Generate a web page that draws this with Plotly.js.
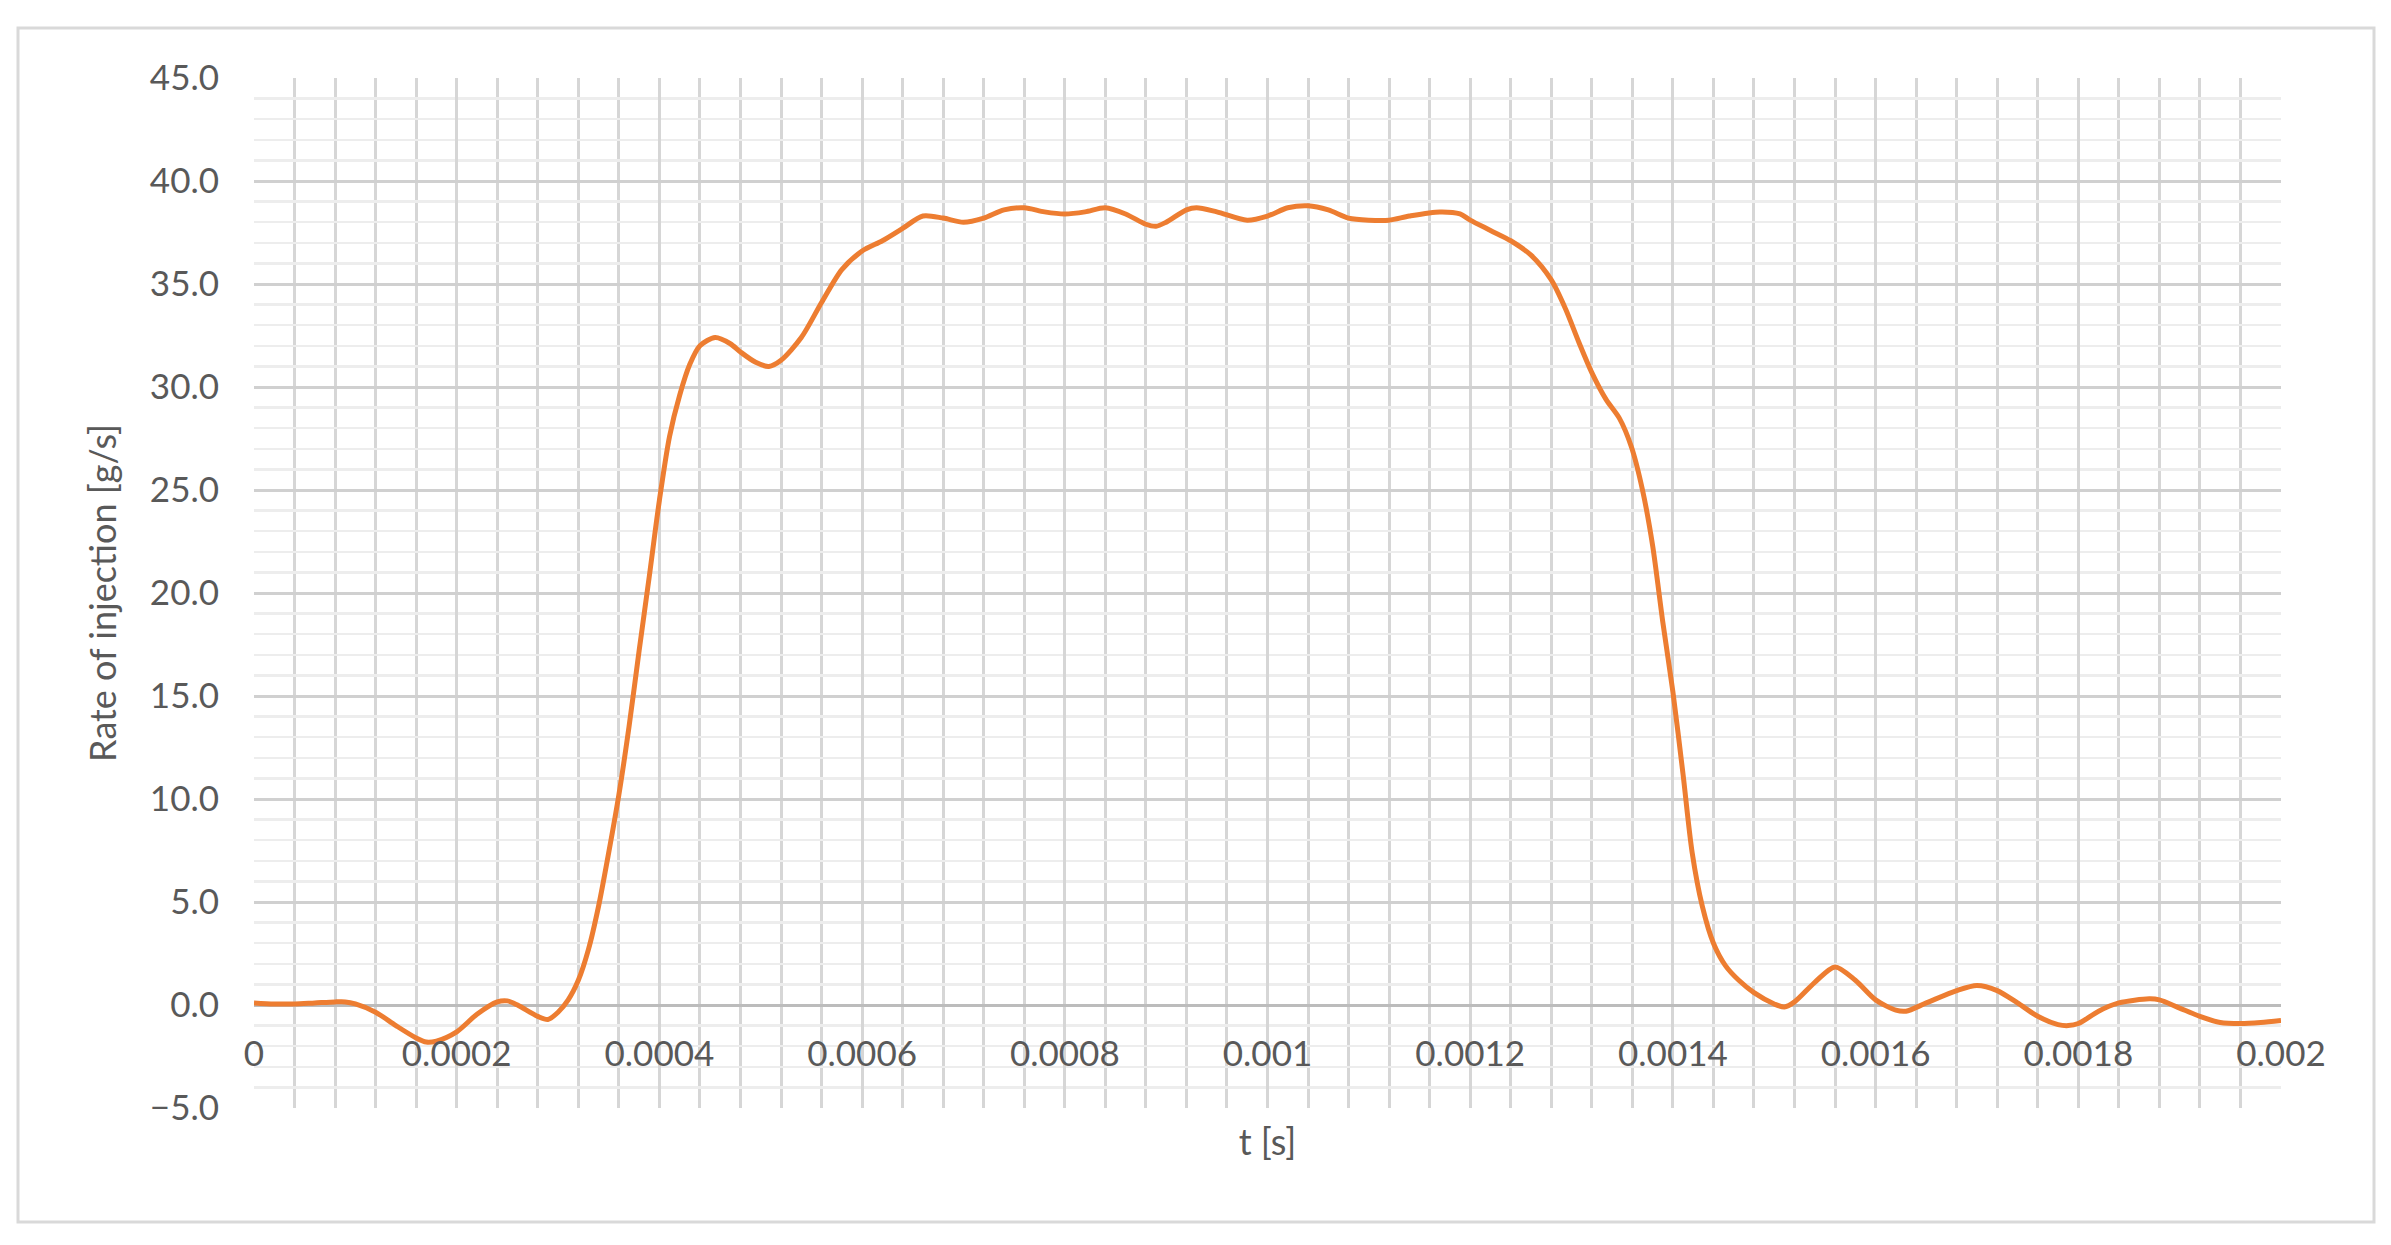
<!DOCTYPE html>
<html>
<head>
<meta charset="utf-8">
<script src="https://cdn.plot.ly/plotly-3.0.1.min.js"></script>
<style>html,body{margin:0;padding:0;background:#fff;}#chart{width:2391px;height:1245px;}</style>
</head>
<body>
<div id="chart"></div>
<script>
// ---- data ----
const tSeconds = [
  0, 0.00002, 0.00004, 0.00006, 0.00008, 0.00009, 0.0001, 0.00012, 0.00014, 0.00016,
  0.00017, 0.00018, 0.0002, 0.00022, 0.00024, 0.00025, 0.00026, 0.00028, 0.00029, 0.0003,
  0.00031, 0.00032, 0.00033, 0.00034, 0.00035, 0.00036, 0.00037, 0.00038, 0.00039, 0.0004,
  0.00041, 0.00042, 0.00043, 0.00044, 0.000455, 0.00047, 0.00048, 0.000495, 0.000508, 0.00052,
  0.00054, 0.00056, 0.00058, 0.0006, 0.00062, 0.00064, 0.00066, 0.00068, 0.0007, 0.00072,
  0.00074, 0.00076, 0.00078, 0.0008, 0.00082, 0.00084, 0.00086, 0.00088, 0.00089, 0.0009,
  0.00092, 0.00093, 0.00095, 0.00098, 0.001, 0.00102, 0.00104, 0.00106, 0.00108, 0.0011,
  0.00112, 0.00114, 0.00117, 0.00119, 0.0012, 0.00122, 0.00124, 0.00126, 0.00128, 0.001294,
  0.001307, 0.00132, 0.001334, 0.001347, 0.001359, 0.00137, 0.00138, 0.00139, 0.0014, 0.00141,
  0.001419, 0.001429, 0.00144, 0.001452, 0.001465, 0.00148, 0.0015, 0.00151, 0.00152, 0.00154,
  0.00156, 0.00158, 0.0016, 0.00162, 0.00163, 0.00165, 0.00168, 0.0017, 0.00172, 0.00174,
  0.00176, 0.00178, 0.00179, 0.0018, 0.00182, 0.00184, 0.00187, 0.00188, 0.0019, 0.00192,
  0.00194, 0.00196, 0.00198, 0.002
];
const rateGs = [
  0.1, 0.05, 0.05, 0.1, 0.15, 0.15, 0.05, -0.35, -1.0, -1.6,
  -1.8, -1.75, -1.3, -0.45, 0.15, 0.2, 0.0, -0.55, -0.7, -0.35,
  0.25, 1.2, 2.7, 4.8, 7.4, 10.2, 13.5, 17.2, 20.8, 24.5,
  27.6, 29.6, 31.1, 32.0, 32.4, 32.1, 31.7, 31.2, 31.0, 31.3,
  32.4, 34.1, 35.7, 36.6, 37.1, 37.7, 38.3, 38.2, 38.0, 38.2,
  38.6, 38.7, 38.5, 38.4, 38.5, 38.7, 38.4, 37.9, 37.8, 38.0,
  38.6, 38.7, 38.5, 38.1, 38.3, 38.7, 38.8, 38.6, 38.2, 38.1,
  38.1, 38.3, 38.5, 38.4, 38.1, 37.6, 37.1, 36.4, 35.2, 33.8,
  32.2, 30.7, 29.4, 28.5, 27.1, 25.0, 22.3, 18.6, 15.2, 11.2,
  7.4, 4.8, 3.0, 1.9, 1.2, 0.6, 0.05, -0.1, 0.15, 1.1,
  1.85, 1.2, 0.25, -0.25, -0.3, 0.1, 0.7, 0.95, 0.7, 0.1,
  -0.55, -0.95, -1.0, -0.9, -0.3, 0.1, 0.3, 0.25, -0.15, -0.55,
  -0.85, -0.9, -0.85, -0.75
];
const xTickVals = [0, 0.0002, 0.0004, 0.0006, 0.0008, 0.001, 0.0012, 0.0014, 0.0016, 0.0018, 0.002];
const xTickText = ['0', '0.0002', '0.0004', '0.0006', '0.0008', '0.001', '0.0012', '0.0014', '0.0016', '0.0018', '0.002'];
const yRange = [-5, 45];
const xRange = [0, 0.002];
const xTitle = 't [s]';
const yTitle = 'Rate of injection [g/s]';

// ---- layout ----
const W = 2391, H = 1245;
const M = {l: 254, r: 110, t: 78, b: 137};
const pw = W - M.l - M.r, ph = H - M.t - M.b;
const txt = '#595959';
const fontFam = 'Lato, "Open Sans", sans-serif';
const zeroPos = (0 - yRange[0]) / (yRange[1] - yRange[0]);
const vGrid = '#d6d6d6';

const trace = {
  x: tSeconds, y: rateGs, type: 'scatter', mode: 'lines',
  line: {color: '#ED7D31', width: 5, shape: 'spline', smoothing: 0.8},
  hoverinfo: 'x+y'
};

const layout = {
  width: W, height: H,
  margin: M,
  paper_bgcolor: '#ffffff', plot_bgcolor: '#ffffff',
  showlegend: false,
  font: {family: fontFam, size: 35, color: txt},
  xaxis: {
    range: xRange,
    anchor: 'free', position: zeroPos,
    tickmode: 'array', tickvals: xTickVals, ticktext: xTickText,
    ticks: 'outside', ticklen: 18, tickcolor: 'rgba(0,0,0,0)',
    tickfont: {family: fontFam, size: 35, color: txt},
    showgrid: true, gridcolor: vGrid, gridwidth: 3,
    minor: {tickmode: 'linear', tick0: 0, dtick: 0.00004, showgrid: true, gridcolor: vGrid, gridwidth: 3,
            ticks: '', ticklen: 0, tickcolor: 'rgba(0,0,0,0)'},
    zeroline: false, showline: false,
    title: {text: xTitle, font: {family: fontFam, size: 36, color: txt}, standoff: 57},
    automargin: false
  },
  yaxis: {
    range: yRange,
    tickmode: 'linear', tick0: 0, dtick: 5, tickformat: '.1f',
    ticks: 'outside', ticklen: 27, tickcolor: 'rgba(0,0,0,0)',
    tickfont: {family: fontFam, size: 35, color: txt},
    showgrid: true, gridcolor: '#d0d0d0', gridwidth: 3,
    minor: {tickmode: 'linear', tick0: 0, dtick: 1, showgrid: true, gridcolor: '#ededed', gridwidth: 2.5,
            ticks: '', ticklen: 0, tickcolor: 'rgba(0,0,0,0)'},
    zeroline: true, zerolinecolor: '#bcbcbc', zerolinewidth: 3,
    showline: false,
    title: {text: yTitle, font: {family: fontFam, size: 36, color: txt}, standoff: 22},
    automargin: false
  },
  shapes: [{
    type: 'rect', xref: 'paper', yref: 'paper', layer: 'below',
    x0: (18 - M.l) / pw, x1: (2374 - M.l) / pw,
    y0: (H - M.b - 1222) / ph, y1: (H - M.b - 28) / ph,
    line: {color: '#d9d9d9', width: 3}, fillcolor: 'rgba(0,0,0,0)'
  }]
};

Plotly.newPlot('chart', [trace], layout, {displayModeBar: false, staticPlot: true});
</script>
</body>
</html>
